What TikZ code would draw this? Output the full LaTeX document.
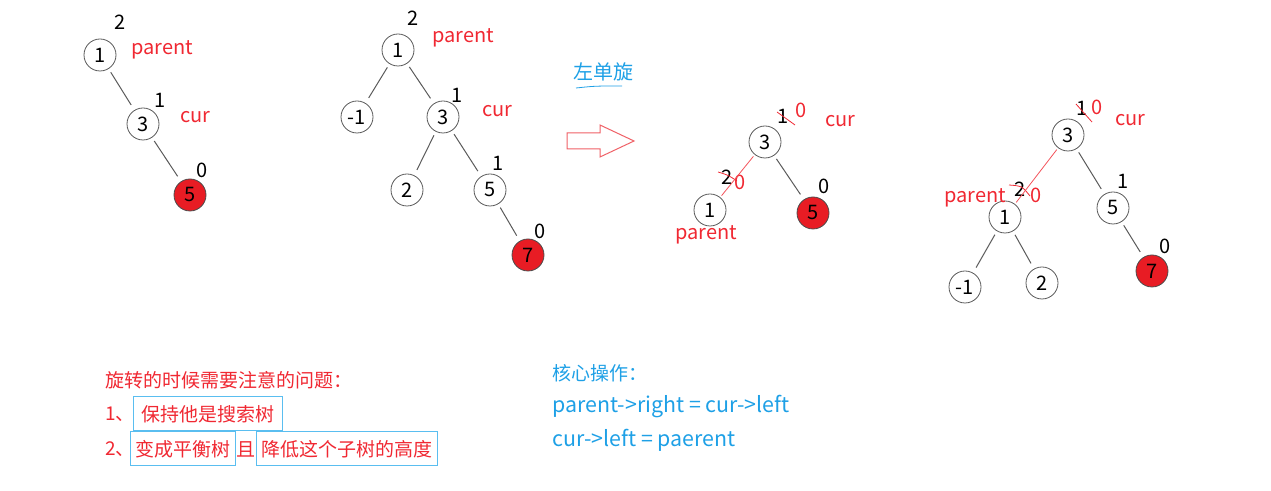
\documentclass[tikz,border=0pt]{standalone}
\usepackage{fontspec}
\setmainfont{Noto Sans CJK SC}
\usepackage{tikz}
\usetikzlibrary{positioning}
\definecolor{nodered}{RGB}{232,28,36}
\definecolor{textred}{RGB}{240,40,50}
\definecolor{textblue}{RGB}{30,160,230}
\definecolor{boxblue}{RGB}{90,190,240}
\definecolor{edgegray}{RGB}{90,90,90}
\tikzset{
  treenode/.style={circle, draw=edgegray, thin, minimum size=16pt, inner sep=0pt,
                   fill=white, font=\fontsize{10}{12}\selectfont},
  rednode/.style={treenode, fill=nodered, draw=black!70},
  bf/.style={font=\fontsize{10}{12}\selectfont, inner sep=0pt},
  redbf/.style={bf, text=textred},
  tag/.style={font=\fontsize{10}{12}\selectfont, text=textred, inner sep=0pt},
  edge/.style={draw=edgegray, line width=0.5pt, shorten <=2pt, shorten >=3pt},
  redge/.style={draw=textred!80, line width=0.4pt, shorten <=1pt, shorten >=1pt},
  strike/.style={draw=textred, line width=0.4pt},
  note/.style={font=\fontsize{9.5}{12}\selectfont, inner sep=0pt, anchor=west},
  hlbox/.style={note, draw=boxblue, line width=0.5pt, inner xsep=2.5pt,
                inner ysep=2pt, minimum height=17pt},
}
\begin{document}
\begin{tikzpicture}[x=0.5pt, y=-0.5pt]
  \useasboundingbox (0,0) rectangle (1271,491);

  % Tree before rotation (small)
  \node[treenode] (a1) at (100,55) {1};
  \node[treenode] (a3) at (143,124) {3};
  \node[rednode]  (a5) at (190,195) {5};
  \node[bf] (a1bf) at (120,22) {2};
  \node[bf] (a3bf) at (160,100) {1};
  \node[bf] (a5bf) at (202,170) {0};
  \node[tag, anchor=west] (aparent) at (131,50) {parent};
  \node[tag, anchor=west] (acur) at (180,117) {cur};
  \draw[edge] (a1) -- (a3);
  \draw[edge] (a3) -- (a5);

  % Tree before rotation (with subtrees)
  \node[treenode] (b1)  at (398,50) {1};
  \node[treenode] (bm1) at (357,117) {-1};
  \node[treenode] (b3)  at (443,117) {3};
  \node[treenode] (b2)  at (407,190) {2};
  \node[treenode] (b5)  at (490,190) {5};
  \node[rednode]  (b7)  at (528,255) {7};
  \node[bf] (b1bf) at (413,18) {2};
  \node[bf] (b3bf) at (457,95) {1};
  \node[bf] (b5bf) at (498,163) {1};
  \node[bf] (b7bf) at (540,231) {0};
  \node[tag, anchor=west] (bparent) at (432,38) {parent};
  \node[tag, anchor=west] (bcur) at (482,111) {cur};
  \draw[edge] (b1) -- (bm1);
  \draw[edge] (b1) -- (b3);
  \draw[edge] (b3) -- (b2);
  \draw[edge] (b3) -- (b5);
  \draw[edge] (b5) -- (b7);

  % Rotation label and arrow
  \node[font=\fontsize{10}{12}\selectfont, text=textblue, inner sep=0pt] (rot) at (603,72) {左单旋};
  \draw[textblue, line width=0.4pt] (576,88) .. controls (595,86) .. (622,86);
  \draw[nodered!70, line width=0.5pt] (567,133) -- (600,133) -- (600,125) -- (634,141)
    -- (600,157) -- (600,149) -- (567,149) -- cycle;

  % Tree after rotation (small)
  \node[treenode] (c3) at (765,142) {3};
  \node[treenode] (c1) at (710,210) {1};
  \node[rednode]  (c5) at (813,213) {5};
  \node[bf] (c3bf) at (783,116) {1};
  \node[redbf] (c3new) at (801,110) {0};
  \node[bf] (c1bf) at (727,177) {2};
  \node[redbf] (c1new) at (740,182) {0};
  \node[bf] (c5bf) at (824,186) {0};
  \node[tag, anchor=west] (ccur) at (825,121) {cur};
  \node[tag, anchor=west] (cparent) at (675,235) {parent};
  \draw[strike] (777,112) -- (795,125);
  \draw[strike] (718,172) .. controls (728,175) .. (737,181);
  \draw[redge] (c3) -- (c1);
  \draw[edge] (c3) -- (c5);

  % Tree after rotation (with subtrees)
  \node[treenode] (d3)  at (1068,135) {3};
  \node[treenode] (d1)  at (1005,217) {1};
  \node[treenode] (d5)  at (1113,208) {5};
  \node[treenode] (dm1) at (965,287) {-1};
  \node[treenode] (d2)  at (1042,283) {2};
  \node[rednode]  (d7)  at (1152,271) {7};
  \node[bf] (d3bf) at (1082,108) {1};
  \node[redbf] (d3new) at (1097,107) {0};
  \node[bf] (d1bf) at (1020,189) {2};
  \node[redbf] (d1new) at (1036,195) {0};
  \node[bf] (d5bf) at (1123,181) {1};
  \node[bf] (d7bf) at (1165,246) {0};
  \node[tag, anchor=west] (dcur) at (1115,120) {cur};
  \node[tag, anchor=west] (dparent) at (944,198) {parent};
  \draw[strike] (1076,104) -- (1092,122);
  \draw[strike] (1009,185) .. controls (1022,186) .. (1030,196);
  \draw[redge] (d3) -- (d1);
  \draw[edge] (d3) -- (d5);
  \draw[edge] (d1) -- (dm1);
  \draw[edge] (d1) -- (d2);
  \draw[edge] (d5) -- (d7);

  % Notes
  \node[note, text=textred] (warn) at (105,380) {旋转的时候需要注意的问题：};
  \node[note, text=textred] (n1) at (105,414) {1、};
  \node[hlbox, text=textred, inner xsep=4pt] (keep) at (133,414) {保持他是搜索树};
  \node[note, text=textred] (n2) at (105,449) {2、};
  \node[hlbox, text=textred] (bal) at (130,449) {变成平衡树};
  \node[note, text=textred, right=0pt of bal] (qie) {且};
  \node[hlbox, text=textred, right=0pt of qie] (low) {降低这个子树的高度};

  \node[note, text=textblue] (core) at (552,373) {核心操作：};
  \node[note, text=textblue, font=\fontsize{10.7}{12}\selectfont] (op1) at (552,407) {parent->right = cur->left};
  \node[note, text=textblue, font=\fontsize{10.7}{12}\selectfont] (op2) at (552,440) {cur->left = paerent};
\end{tikzpicture}
\end{document}
